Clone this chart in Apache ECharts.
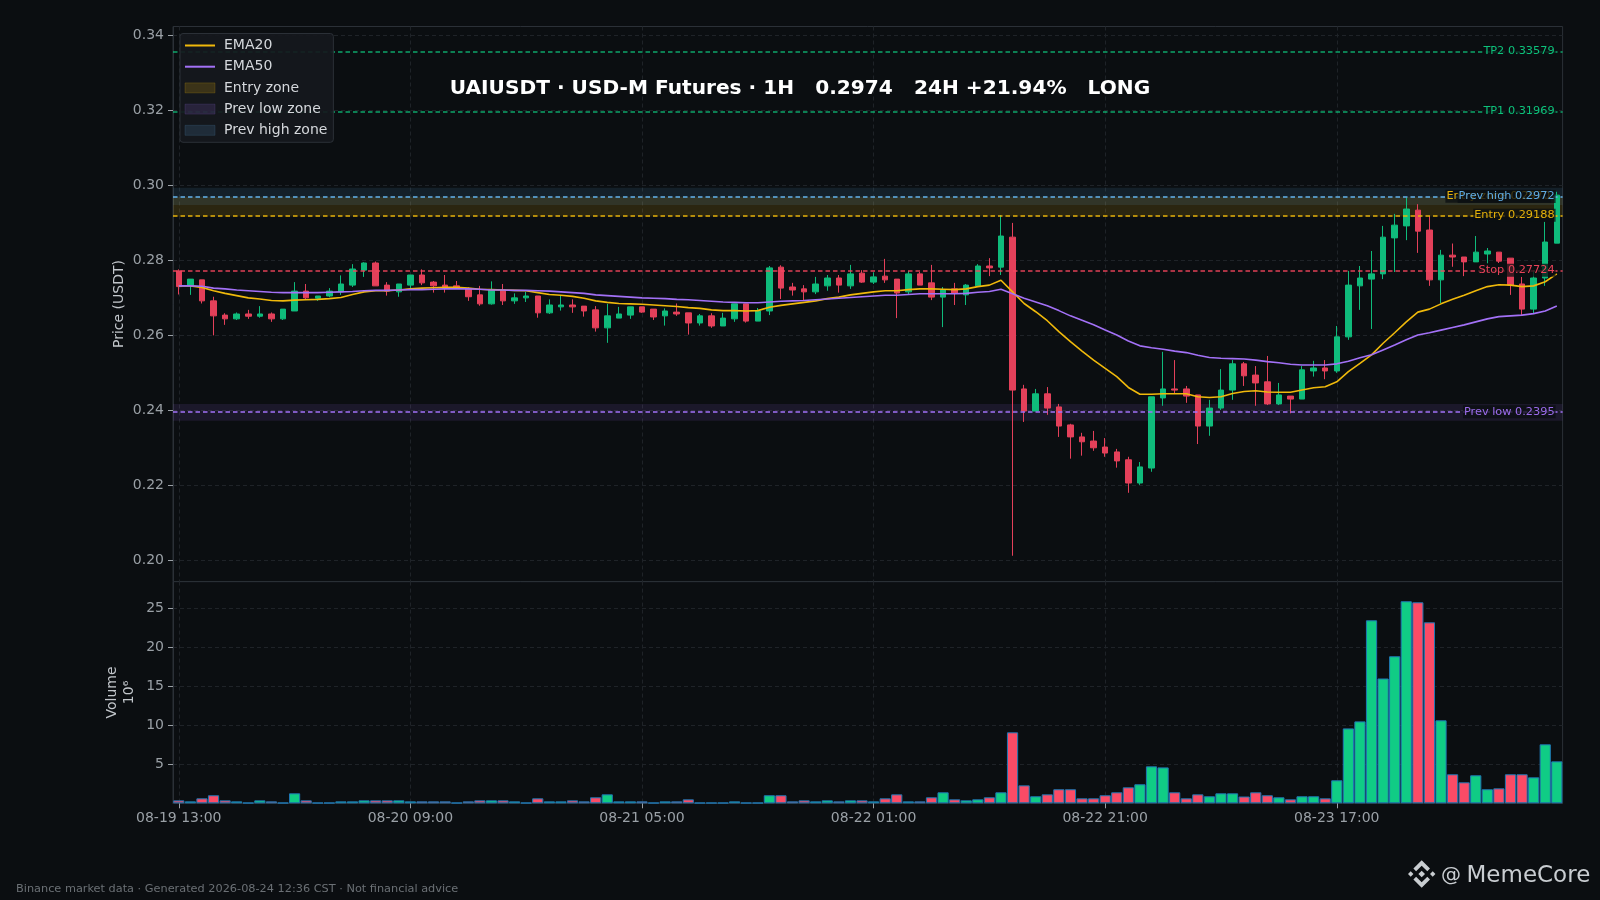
<!DOCTYPE html>
<html>
<head>
<meta charset="utf-8">
<style>html,body{margin:0;padding:0;background:#0b0e11}#c{width:1600px;height:900px}</style>
<script src="https://cdn.jsdelivr.net/npm/echarts@6/dist/echarts.min.js"></script>
</head>
<body>
<div id="c"></div>
<script>
const opens = [
.2772,.2734,.2748,.2692,.2654,.2644,.2657,.2651,.2657,.2644,
.2665,.2718,.2699,.2705,.2716,.2734,.2774,.2793,.2734,.2716,
.2734,.2761,.2742,.2734,.2732,.2725,.2708,.2684,.2721,.2692,
.2700,.2705,.2660,.2676,.2681,.2678,.2668,.2620,.2646,.2654,
.2676,.2670,.2652,.2662,.2660,.2633,.2652,.2625,.2644,.2684,
.2638,.2665,.2782,.2729,.2724,.2716,.2732,.2753,.2732,.2766,
.2742,.2758,.2750,.2716,.2764,.2740,.2702,.2724,.2708,.2732,
.2785,.2782,.2862,.2457,.2398,.2444,.2409,.2361,.2329,.2318,
.2302,.2289,.2268,.2206,.2246,.2433,.2457,.2457,.2441,.2358,
.2406,.2454,.2524,.2494,.2476,.2417,.2438,.2430,.2505,.2513,
.2505,.2596,.2732,.2750,.2764,.2860,.2892,.2934,.2881,.2748,
.2814,.2809,.2796,.2817,.2822,.2806,.2737,.2670,.2753,.2846];
const closes = [
.2730,.2750,.2692,.2652,.2644,.2657,.2651,.2657,.2644,.2670,
.2718,.2700,.2705,.2718,.2737,.2777,.2793,.2732,.2718,.2737,
.2761,.2740,.2732,.2726,.2726,.2703,.2684,.2721,.2692,.2700,
.2705,.2660,.2681,.2681,.2676,.2665,.2620,.2652,.2657,.2676,
.2662,.2649,.2665,.2657,.2633,.2652,.2625,.2646,.2684,.2638,
.2665,.2780,.2726,.2721,.2716,.2737,.2753,.2734,.2764,.2742,
.2756,.2748,.2713,.2764,.2734,.2702,.2721,.2712,.2734,.2785,
.2780,.2865,.2454,.2398,.2444,.2406,.2358,.2329,.2316,.2300,
.2286,.2265,.2206,.2249,.2436,.2457,.2454,.2438,.2358,.2406,
.2454,.2524,.2492,.2473,.2417,.2441,.2430,.2508,.2513,.2505,
.2596,.2734,.2753,.2764,.2862,.2894,.2937,.2878,.2748,.2814,
.2809,.2796,.2822,.2825,.2798,.2734,.2670,.2753,.2849,.2974];
const lows = [
.2709,.2708,.2685,.2600,.2628,.2641,.2644,.2647,.2636,.2641,
.2665,.2697,.2692,.2702,.2708,.2729,.2756,.2732,.2706,.2703,
.2725,.2734,.2714,.2714,.2724,.2692,.2679,.2682,.2681,.2684,
.2689,.2647,.2657,.2666,.2660,.2650,.2610,.2580,.2646,.2644,
.2660,.2641,.2626,.2652,.2602,.2626,.2620,.2625,.2636,.2634,
.2638,.2654,.2697,.2706,.2692,.2710,.2719,.2714,.2724,.2740,
.2737,.2740,.2646,.2710,.2734,.2694,.2622,.2681,.2681,.2732,
.2758,.2761,.2012,.2369,.2398,.2388,.2329,.2271,.2279,.2292,
.2276,.2247,.2180,.2201,.2236,.2412,.2444,.2420,.2310,.2332,
.2401,.2428,.2465,.2412,.2414,.2414,.2392,.2430,.2490,.2483,
.2500,.2588,.2668,.2617,.2750,.2769,.2854,.2820,.2732,.2686,
.2783,.2758,.2796,.2792,.2793,.2708,.2654,.2659,.2732,.2846];
const highs = [
.2776,.2750,.2748,.2703,.2659,.2661,.2668,.2678,.2661,.2670,
.2742,.2737,.2705,.2726,.2760,.2790,.2795,.2797,.2742,.2737,
.2761,.2776,.2745,.2761,.2745,.2728,.2732,.2744,.2737,.2712,
.2716,.2705,.2696,.2705,.2696,.2678,.2678,.2684,.2676,.2676,
.2676,.2670,.2672,.2685,.2660,.2657,.2659,.2660,.2684,.2684,
.2673,.2785,.2787,.2740,.2734,.2756,.2761,.2761,.2788,.2774,
.2768,.2804,.2750,.2772,.2769,.2788,.2729,.2740,.2737,.2790,
.2806,.2921,.2900,.2468,.2457,.2462,.2417,.2364,.2340,.2345,
.2326,.2297,.2276,.2262,.2436,.2556,.2534,.2465,.2441,.2428,
.2510,.2534,.2529,.2518,.2545,.2473,.2438,.2518,.2532,.2534,
.2625,.2772,.2785,.2825,.2892,.2924,.2968,.2950,.2918,.2828,
.2845,.2809,.2865,.2833,.2822,.2806,.2756,.2774,.2903,.2983];
const ema20 = [
.2732,.2732,.2728,.2719,.2712,.2706,.2700,.2697,.2693,.2692,
.2694,.2695,.2696,.2698,.2701,.2709,.2716,.2719,.2719,.2721,
.2724,.2726,.2727,.2728,.2728,.2726,.2723,.2722,.2721,.2720,
.2719,.2714,.2709,.2707,.2704,.2699,.2692,.2688,.2685,.2684,
.2683,.2681,.2679,.2677,.2674,.2672,.2668,.2666,.2666,.2665,
.2666,.2675,.2680,.2684,.2688,.2692,.2698,.2702,.2708,.2712,
.2716,.2719,.2719,.2722,.2724,.2724,.2723,.2722,.2724,.2730,
.2734,.2747,.2716,.2685,.2663,.2639,.2610,.2583,.2558,.2534,
.2512,.2490,.2461,.2443,.2443,.2444,.2444,.2444,.2436,.2434,
.2436,.2445,.2450,.2452,.2449,.2448,.2448,.2454,.2460,.2463,
.2476,.2503,.2525,.2548,.2579,.2607,.2636,.2662,.2670,.2684,
.2696,.2707,.2719,.2730,.2735,.2734,.2730,.2732,.2743,.2764];
const ema50 = [
.2732,.2732,.2731,.2726,.2724,.2721,.2719,.2717,.2715,.2714,
.2714,.2714,.2714,.2715,.2716,.2717,.2719,.2720,.2720,.2721,
.2722,.2722,.2723,.2724,.2724,.2724,.2723,.2721,.2721,.2720,
.2720,.2719,.2718,.2716,.2714,.2712,.2708,.2706,.2704,.2702,
.2700,.2699,.2698,.2696,.2695,.2693,.2691,.2689,.2688,.2687,
.2687,.2689,.2691,.2692,.2693,.2695,.2697,.2699,.2701,.2703,
.2705,.2707,.2707,.2709,.2711,.2711,.2711,.2711,.2712,.2715,
.2717,.2723,.2711,.2699,.2689,.2679,.2666,.2652,.2640,.2628,
.2614,.2601,.2585,.2572,.2567,.2563,.2558,.2554,.2547,.2541,
.2539,.2538,.2537,.2534,.2530,.2527,.2523,.2521,.2521,.2521,
.2524,.2531,.2540,.2548,.2561,.2574,.2588,.2601,.2607,.2614,
.2621,.2628,.2636,.2644,.2650,.2652,.2654,.2658,.2665,.2678];
const volumes = [
.38,.25,.64,1.03,.38,.25,.08,.38,.25,.08,
1.28,.38,.08,.08,.25,.25,.38,.38,.38,.38,
.25,.25,.25,.25,.08,.25,.38,.38,.38,.25,
.08,.64,.25,.25,.38,.25,.77,1.15,.25,.25,
.25,.08,.25,.25,.51,.08,.08,.08,.25,.08,
.08,1.03,1.03,.25,.38,.25,.38,.25,.38,.38,
.25,.64,1.15,.25,.25,.77,1.41,.51,.38,.51,
.77,1.41,9.10,2.30,.90,1.15,1.80,1.80,.64,.64,
1.03,1.41,2.05,2.44,4.74,4.60,1.41,.64,1.15,.90,
1.28,1.28,.87,1.41,1.03,.77,.51,.90,.90,.64,
2.95,9.60,10.50,23.46,16.00,18.85,25.90,25.77,23.20,10.64,
3.72,2.69,3.59,1.80,1.92,3.72,3.72,3.33,7.56,5.38];
const categories = [];
for (let i = 0; i < opens.length; i++) {
  const h = 13 + i, d = 19 + Math.floor(h / 24);
  categories.push('08-' + d + ' ' + String(h % 24).padStart(2, '0') + ':00');
}
const priceTicks = [0.20, 0.22, 0.24, 0.26, 0.28, 0.30, 0.32, 0.34];
const volumeTicks = [5, 10, 15, 20, 25];
const levels = [
  {label: 'TP2 0.33579', value: 0.33579, color: '#0ecb81', op: .8},
  {label: 'TP1 0.31969', value: 0.31969, color: '#0ecb81', op: .8},
  {label: 'Entry zone 0.2970', value: 0.2970, color: '#f0b90b', op: 0, dx: -11.5},
  {label: 'Prev high 0.2972', value: 0.2969, color: '#63b3ed', op: 1},
  {label: 'Entry 0.29188', value: 0.29188, color: '#f0b90b', op: .95},
  {label: 'Stop 0.27724', value: 0.27724, color: '#f6465d', op: .9},
  {label: 'Prev low 0.2395', value: 0.2395, color: '#a371f7', op: 1}
];
const zones = [
  {name: 'Entry zone', low: 0.2917, high: 0.2970, color: 'rgba(240,185,11,0.14)', swatch: 'rgba(240,185,11,0.18)'},
  {name: 'Prev low zone', low: 0.2372, high: 0.2417, color: 'rgba(163,113,247,0.11)', swatch: 'rgba(163,113,247,0.14)'},
  {name: 'Prev high zone', low: 0.29475, high: 0.2994, color: 'rgba(99,179,237,0.11)', swatch: 'rgba(99,179,237,0.14)'}
];
const titleText = 'UAIUSDT · USD-M Futures · 1H   0.2974   24H +21.94%   LONG';
const footerText = 'Binance market data · Generated 2026-08-24 12:36 CST · Not financial advice';

const FONT = '"DejaVu Sans"';
const BG = '#0b0e11', GRID = '#1f2328', FRAME = '#2b3037', TXT = '#9aa0a6';
const UP = '#0fbb7b', DOWN = '#e4405a', VUP = '#10cc85', VDOWN = '#fb4b66';

const candleData = opens.map((o, i) => [o, closes[i], lows[i], highs[i]]);
const volData = volumes.map((v, i) => ({
  value: v,
  itemStyle: {color: closes[i] >= opens[i] ? VUP : VDOWN}
}));
const everyTwenty = i => i % 20 === 0;

const xBase = {type: 'category', data: categories, boundaryGap: true};
const gridLine = {show: true, lineStyle: {color: GRID, type: [4, 3], width: 1}};
const option = {
  backgroundColor: BG,
  animation: false,
  textStyle: {fontFamily: FONT},
  title: {
    text: titleText, left: 'center', top: 74, z: 20,
    textStyle: {color: '#ffffff', fontFamily: FONT, fontWeight: 'bold', fontSize: 20.15}
  },
  legend: {
    left: 180, top: 33.5, orient: 'vertical', selectedMode: false, z: 20,
    padding: [5, 6, 5, 4], itemWidth: 30, itemHeight: 10, itemGap: 7.2,
    backgroundColor: 'rgba(22,24,29,0.92)', borderColor: '#2b3037', borderWidth: 1, borderRadius: 3,
    textStyle: {color: '#d5d8dc', fontFamily: FONT, fontSize: 14, padding: [0, 0, 0, 4]},
    data: [
      {name: 'EMA20', itemStyle: {opacity: 0}}, {name: 'EMA50', itemStyle: {opacity: 0}},
      ...zones.map(z => ({name: z.name, icon: 'rect', itemStyle: {color: z.swatch, borderColor: z.swatch, borderWidth: 1}}))
    ]
  },
  grid: [
    {left: 173, right: 37.4, top: 26.5, height: 555.1, show: true, borderColor: FRAME, borderWidth: 1, backgroundColor: 'transparent'},
    {left: 173, right: 37.4, top: 581.6, height: 221.7, show: true, borderColor: FRAME, borderWidth: 1, backgroundColor: 'transparent'}
  ],
  xAxis: [
    {...xBase, gridIndex: 0,
      axisLine: {show: false}, axisTick: {show: false}, axisLabel: {show: false},
      splitLine: {...gridLine, alignWithLabel: true, interval: 19}},
    {...xBase, gridIndex: 1,
      axisLine: {show: true, lineStyle: {color: FRAME}},
      axisTick: {show: true, alignWithLabel: true, interval: 19, length: 5, lineStyle: {color: TXT}},
      axisLabel: {show: true, interval: everyTwenty, color: TXT, fontFamily: FONT, fontSize: 14, margin: 8},
      splitLine: {...gridLine, alignWithLabel: true, interval: 19}}
  ],
  yAxis: [
    {type: 'value', gridIndex: 0, min: 0.1943, max: 0.3424, scale: true,
      name: 'Price (USDT)', nameLocation: 'middle', nameRotate: 90, nameGap: 47, nameMoveOverlap: false,
      nameTextStyle: {color: '#c2c6cb', fontFamily: FONT, fontSize: 14},
      axisLine: {show: true, lineStyle: {color: FRAME}},
      axisTick: {show: true, length: 5, lineStyle: {color: TXT}, customValues: priceTicks},
      axisLabel: {color: TXT, fontFamily: FONT, fontSize: 14, margin: 9, padding: [8, 0, 0, 0], customValues: priceTicks, formatter: v => v.toFixed(2)},
      splitLine: gridLine},
    {type: 'value', gridIndex: 1, min: 0, max: 28.42,
      name: 'Volume\n10⁶', nameLocation: 'middle', nameRotate: 90, nameGap: 35, nameMoveOverlap: false,
      nameTextStyle: {color: '#c2c6cb', fontFamily: FONT, fontSize: 14, lineHeight: 17},
      axisLine: {show: true, lineStyle: {color: FRAME}},
      axisTick: {show: true, length: 5, lineStyle: {color: TXT}, customValues: volumeTicks},
      axisLabel: {color: TXT, fontFamily: FONT, fontSize: 14, margin: 9, padding: [8, 0, 0, 0], customValues: volumeTicks},
      splitLine: gridLine}
  ],
  series: [
    ...zones.map(z => ({
      name: z.name, type: 'line', xAxisIndex: 0, yAxisIndex: 0, data: [], z: 1, silent: true,
      itemStyle: {color: z.swatch},
      markArea: {silent: true, itemStyle: {color: z.color}, data: [[{yAxis: z.low}, {yAxis: z.high}]]}
    })),
    {
      name: 'Candles', type: 'candlestick', xAxisIndex: 0, yAxisIndex: 0, z: 3, barWidth: 6,
      data: candleData, silent: true,
      itemStyle: {color: UP, color0: DOWN, borderColor: UP, borderColor0: DOWN, borderWidth: 1}
    },
    {name: 'EMA20', type: 'line', xAxisIndex: 0, yAxisIndex: 0, z: 4, data: ema20, showSymbol: false, symbol: 'none', silent: true,
      lineStyle: {color: '#f0b90b', width: 1.6}, itemStyle: {color: '#f0b90b'}},
    {name: 'EMA50', type: 'line', xAxisIndex: 0, yAxisIndex: 0, z: 4, data: ema50, showSymbol: false, symbol: 'none', silent: true,
      lineStyle: {color: '#a371f7', width: 1.6}, itemStyle: {color: '#a371f7'}},
    {
      name: 'Levels', type: 'line', xAxisIndex: 0, yAxisIndex: 0, z: 10, data: [], silent: true,
      markLine: {
        silent: true, symbol: 'none', animation: false, precision: 6,
        data: levels.map(l => ({
          yAxis: l.value,
          lineStyle: {color: l.color, type: [4.5, 3], width: 1.5, opacity: l.op},
          label: {
            show: true, position: 'insideEnd', formatter: l.label, distance: 0, offset: [l.dx || -7, -0.5],
            color: l.color, fontFamily: FONT, fontSize: 11.3, opacity: .95,
            backgroundColor: 'rgba(11,14,17,0.8)', padding: [1, 1]
          }
        }))
      }
    },
    {
      name: 'Volume', type: 'bar', xAxisIndex: 1, yAxisIndex: 1, data: volData, barWidth: 11.2, silent: true,
      itemStyle: {borderColor: '#1f77b4', borderWidth: 1}
    }
  ],
  graphic: [
    {type: 'text', left: 16, top: 884, silent: true, style: {text: footerText, fill: '#6b7075', font: '11.3px ' + FONT}},
    {type: 'group', x: 1421.7, y: 874, silent: true, children: [
      {type: 'polygon', shape: {points: [[0,-13.7],[8.3,-5.4],[5.6,-2.8],[0,-8.3],[-5.6,-2.8],[-8.3,-5.4]]}, style: {fill: '#c9cdd1'}},
      {type: 'polygon', shape: {points: [[0,13.7],[8.3,5.4],[5.6,2.8],[0,8.3],[-5.6,2.8],[-8.3,5.4]]}, style: {fill: '#c9cdd1'}},
      {type: 'polygon', shape: {points: [[0,-3.3],[3.3,0],[0,3.3],[-3.3,0]]}, style: {fill: '#c9cdd1'}},
      {type: 'polygon', shape: {points: [[-13.7,0],[-11,-2.7],[-8.3,0],[-11,2.7]]}, style: {fill: '#c9cdd1'}},
      {type: 'polygon', shape: {points: [[13.7,0],[11,-2.7],[8.3,0],[11,2.7]]}, style: {fill: '#c9cdd1'}}
    ]},
    {type: 'text', left: 1441, top: 866, silent: true, style: {text: '@', fill: '#c9cdd1', font: '20px ' + FONT}},
    {type: 'text', left: 1466.5, top: 865, silent: true, style: {text: 'MemeCore', fill: '#c9cdd1', font: '23px ' + FONT}}
  ]
};
const chart = echarts.init(document.getElementById('c'), null, {renderer: 'canvas'});
chart.setOption(option);
</script>
</body>
</html>
